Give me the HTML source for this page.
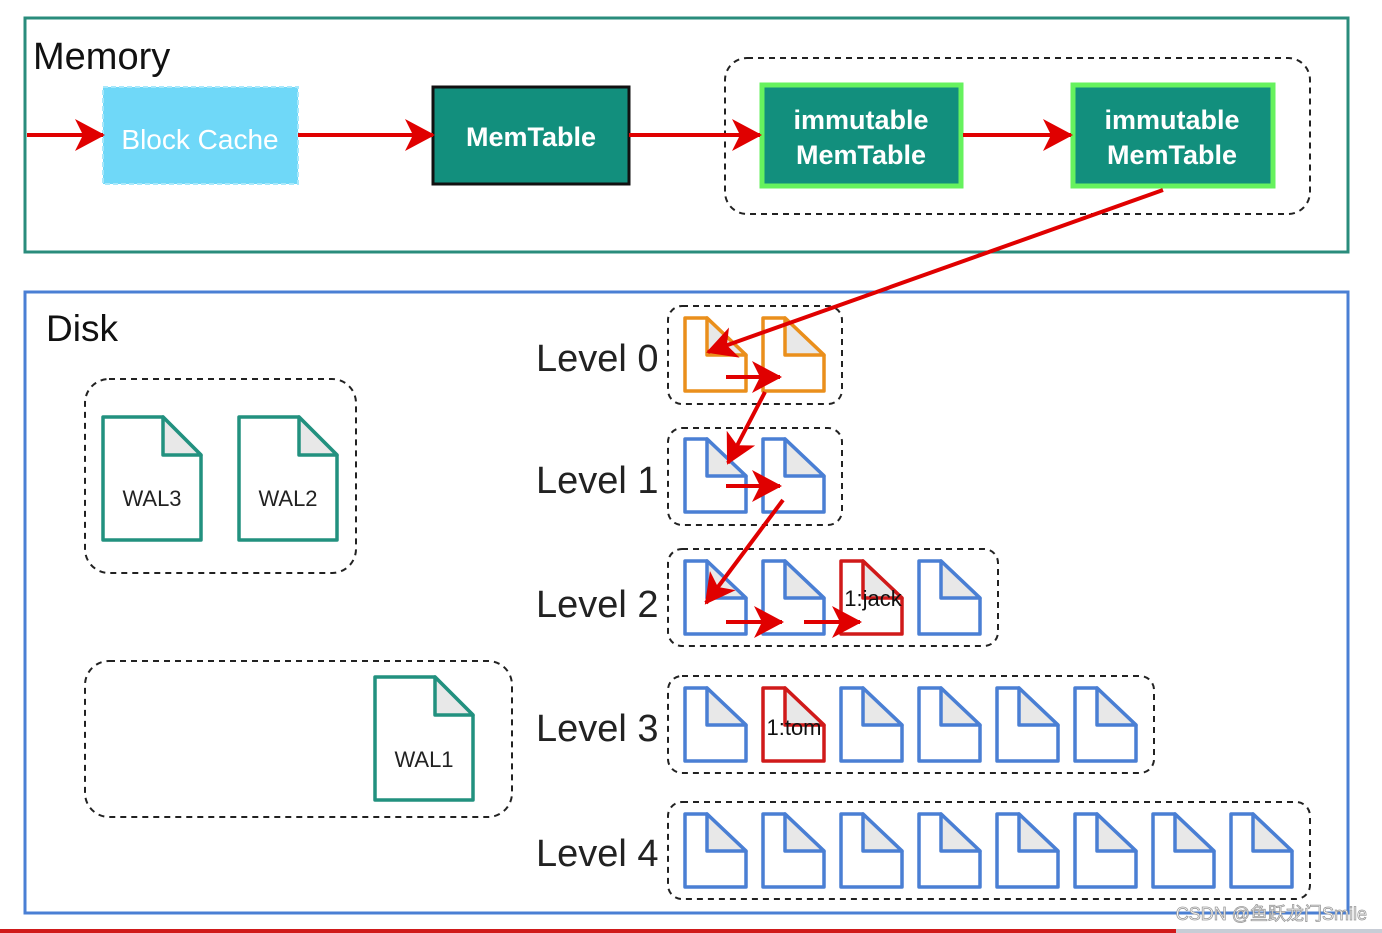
<!DOCTYPE html>
<html><head><meta charset="utf-8"><style>
html,body{margin:0;padding:0;background:#fff;}
svg{display:block;font-family:"Liberation Sans",Arial,sans-serif;}
</style></head><body>
<svg width="1382" height="933" viewBox="0 0 1382 933" xmlns="http://www.w3.org/2000/svg">
<defs>
<marker id="ah" markerUnits="userSpaceOnUse" markerWidth="30" markerHeight="32" refX="28" refY="16" orient="auto">
<path d="M0,0 L30,16 L0,32 L8,16 Z" fill="#e00000"/>
</marker>
<g id="f"><path d="M0,0 H22 L61,37 V73 H0 Z" fill="#fff" stroke-width="3.5" stroke-linejoin="round"/><path d="M22,0 V37 H61 Z" fill="#e8e8e8" stroke-width="3.5" stroke-linejoin="round"/></g>
<g id="w"><path d="M0,0 H60 L98,38 V123 H0 Z" fill="#fff" stroke-width="3.5" stroke-linejoin="round"/><path d="M60,0 V38 H98 Z" fill="#e8e8e8" stroke-width="3.5" stroke-linejoin="round"/></g>
</defs>

<!-- Memory -->
<rect x="25" y="18" width="1323" height="234" fill="none" stroke="#2a8c7c" stroke-width="3"/>
<text x="33" y="69" font-size="38" fill="#111">Memory</text>
<rect x="103" y="87" width="195" height="97" fill="#6fd8f8" stroke="#a8e8fb" stroke-width="2" stroke-dasharray="5,3"/>
<text x="200" y="149" font-size="28" fill="#fff" text-anchor="middle">Block Cache</text>
<rect x="433" y="87" width="196" height="97" fill="#128f7d" stroke="#111" stroke-width="3"/>
<text x="531" y="146" font-size="27" font-weight="bold" fill="#fff" text-anchor="middle">MemTable</text>
<rect x="725" y="58" width="585" height="156" rx="22" fill="none" stroke="#222" stroke-width="2" stroke-dasharray="6,5"/>
<rect x="762" y="85" width="199" height="101" fill="#128f7d" stroke="#66f25e" stroke-width="5"/>
<text x="861" y="129" font-size="27" font-weight="bold" fill="#fff" text-anchor="middle">immutable</text>
<text x="861" y="164" font-size="27" font-weight="bold" fill="#fff" text-anchor="middle">MemTable</text>
<rect x="1073" y="85" width="200" height="101" fill="#128f7d" stroke="#66f25e" stroke-width="5"/>
<text x="1172" y="129" font-size="27" font-weight="bold" fill="#fff" text-anchor="middle">immutable</text>
<text x="1172" y="164" font-size="27" font-weight="bold" fill="#fff" text-anchor="middle">MemTable</text>

<!-- Disk -->
<rect x="25" y="292" width="1323" height="621" fill="none" stroke="#4a7fd4" stroke-width="3"/>
<text x="46" y="341" font-size="37" fill="#111">Disk</text>
<rect x="85" y="379" width="271" height="194" rx="24" fill="none" stroke="#222" stroke-width="2" stroke-dasharray="6,5"/>
<rect x="85" y="661" width="427" height="156" rx="24" fill="none" stroke="#222" stroke-width="2" stroke-dasharray="6,5"/>
<use href="#w" x="103" y="417" stroke="#22917f"/>
<use href="#w" x="239" y="417" stroke="#22917f"/>
<use href="#w" x="375" y="677" stroke="#22917f"/>
<text x="152" y="506" font-size="22" fill="#222" text-anchor="middle">WAL3</text>
<text x="288" y="506" font-size="22" fill="#222" text-anchor="middle">WAL2</text>
<text x="424" y="767" font-size="22" fill="#222" text-anchor="middle">WAL1</text>

<g font-size="38" fill="#222">
<text x="536" y="371">Level 0</text>
<text x="536" y="493">Level 1</text>
<text x="536" y="617">Level 2</text>
<text x="536" y="741">Level 3</text>
<text x="536" y="866">Level 4</text>
</g>
<g fill="none" stroke="#222" stroke-width="2" stroke-dasharray="6,5">
<rect x="668" y="306" width="174" height="98" rx="14"/>
<rect x="668" y="428" width="174" height="97" rx="14"/>
<rect x="668" y="549" width="330" height="97" rx="14"/>
<rect x="668" y="676" width="486" height="97" rx="14"/>
<rect x="668" y="802" width="642" height="97" rx="14"/>
</g>
<use href="#f" x="685" y="318" stroke="#ea8f1c"/>
<use href="#f" x="763" y="318" stroke="#ea8f1c"/>
<use href="#f" x="685" y="439" stroke="#4a7fd4"/>
<use href="#f" x="763" y="439" stroke="#4a7fd4"/>
<use href="#f" x="685" y="561" stroke="#4a7fd4"/>
<use href="#f" x="763" y="561" stroke="#4a7fd4"/>
<use href="#f" x="841" y="561" stroke="#d01a1a"/>
<use href="#f" x="919" y="561" stroke="#4a7fd4"/>
<use href="#f" x="685" y="688" stroke="#4a7fd4"/>
<use href="#f" x="763" y="688" stroke="#d01a1a"/>
<use href="#f" x="841" y="688" stroke="#4a7fd4"/>
<use href="#f" x="919" y="688" stroke="#4a7fd4"/>
<use href="#f" x="997" y="688" stroke="#4a7fd4"/>
<use href="#f" x="1075" y="688" stroke="#4a7fd4"/>
<g stroke="#4a7fd4">
<use href="#f" x="685" y="814"/><use href="#f" x="763" y="814"/><use href="#f" x="841" y="814"/><use href="#f" x="919" y="814"/>
<use href="#f" x="997" y="814"/><use href="#f" x="1075" y="814"/><use href="#f" x="1153" y="814"/><use href="#f" x="1231" y="814"/>
</g>
<text x="873" y="606" font-size="22" fill="#111" text-anchor="middle">1:jack</text>
<text x="794" y="735" font-size="22" fill="#111" text-anchor="middle">1:tom</text>

<!-- arrows -->
<g stroke="#e00000" stroke-width="4" fill="none" marker-end="url(#ah)">
<line x1="27" y1="135" x2="103" y2="135"/>
<line x1="298" y1="135" x2="433" y2="135"/>
<line x1="629" y1="135" x2="760" y2="135"/>
<line x1="963" y1="135" x2="1071" y2="135"/>
<line x1="1163" y1="190" x2="708" y2="352"/>
<line x1="726" y1="377" x2="780" y2="377"/>
<line x1="765" y1="392" x2="728" y2="463"/>
<line x1="726" y1="486" x2="780" y2="486"/>
<line x1="783" y1="500" x2="706" y2="603"/>
<line x1="726" y1="622" x2="782" y2="622"/>
<line x1="804" y1="622" x2="860" y2="622"/>
</g>

<text x="1367" y="920" font-size="18" fill="#fff" stroke="#999" stroke-width="0.8" text-anchor="end" font-family="Liberation Sans, Noto Sans CJK SC, sans-serif">CSDN @鱼跃龙门Smile</text>
<rect x="0" y="929" width="1176" height="4" fill="#d01a1a"/>
<rect x="1176" y="929" width="206" height="4" fill="#c8cdd6"/>
</svg>
</body></html>
